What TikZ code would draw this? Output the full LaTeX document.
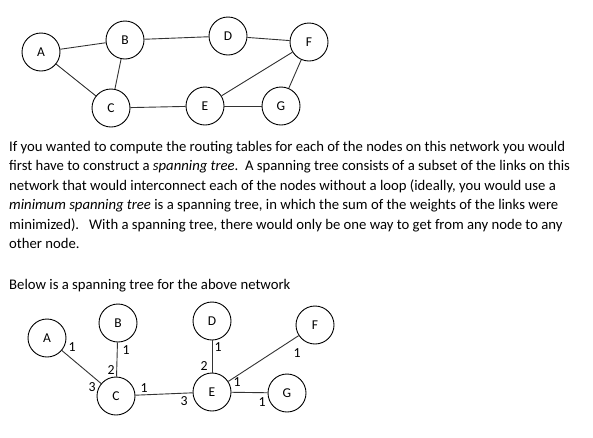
\documentclass[tikz,border=0pt]{standalone}
\usepackage{fontspec}
\setmainfont{Carlito}
\begin{document}
\begin{tikzpicture}[x=1pt,y=-1pt,
  nd/.style={circle,draw=black,line width=0.9pt,minimum size=38pt,inner sep=0pt,font=\fontsize{13.5}{14}\selectfont,fill=white},
  ed/.style={draw=black!80,line width=0.9pt},
  wt/.style={inner sep=0pt,font=\fontsize{13.8}{14}\selectfont},
  ln/.style={anchor=base west,inner sep=0pt,font=\fontsize{14.7}{19.4}\selectfont}]
\useasboundingbox (0,0) rectangle (593,437);
% top network
\node[nd] (A) at (41,52) {A};
\node[nd] (B) at (125,40) {B};
\node[nd] (D) at (228,36) {D};
\node[nd] (F) at (309,42) {F};
\node[nd] (C) at (111,108) {C};
\node[nd] (E) at (205,106) {E};
\node[nd] (G) at (281,106) {G};
\draw[ed] (A) -- (B);
\draw[ed] (A) -- (C);
\draw[ed] (B) -- (C);
\draw[ed] (B) -- (D);
\draw[ed] (D) -- (F);
\draw[ed] (F) -- (E);
\draw[ed] (F) -- (G);
\draw[ed] (C) -- (E);
\draw[ed] (E) -- (G);
% paragraph
\node[ln] (l1) at (9,151.5) {If you wanted to compute the routing tables for each of the nodes on this network you would};
\node[ln] (l2) at (9,170.9) {first have to construct a \textit{spanning tree}.\ \ A spanning tree consists of a subset of the links on this};
\node[ln] (l3) at (9,190.3) {network that would interconnect each of the nodes without a loop (ideally, you would use a};
\node[ln] (l4) at (9,209.7) {\textit{minimum spanning tree} is a spanning tree, in which the sum of the weights of the links were};
\node[ln] (l5) at (9,229.1) {minimized).\ \ \ With a spanning tree, there would only be one way to get from any node to any};
\node[ln] (l6) at (9,248.5) {other node.};
\node[ln] (below) at (9,289) {Below is a spanning tree for the above network};
% spanning tree
\node[nd] (a) at (47,338) {A};
\node[nd] (b) at (118,323) {B};
\node[nd] (c) at (116,396) {C};
\node[nd] (d) at (212,321) {D};
\node[nd] (e) at (212,392) {E};
\node[nd] (f) at (315,325) {F};
\node[nd] (g) at (287,393) {G};
\draw[ed] (a) -- (c);
\draw[ed] (b) -- (c);
\draw[ed] (c) -- (e);
\draw[ed] (d) -- (e);
\draw[ed] (e) -- (f);
\draw[ed] (e) -- (g);
% weights
\node[wt] (w1) at (72,347) {1};
\node[wt] (w2) at (92,387) {3};
\node[wt] (w3) at (126,350) {1};
\node[wt] (w4) at (111,370) {2};
\node[wt] (w5) at (144,388) {1};
\node[wt] (w6) at (184,401) {3};
\node[wt] (w7) at (218,347) {1};
\node[wt] (w8) at (204,366) {2};
\node[wt] (w9) at (237,382) {1};
\node[wt] (w10) at (297,353) {1};
\node[wt] (w11) at (262,402) {1};
\end{tikzpicture}
\end{document}
